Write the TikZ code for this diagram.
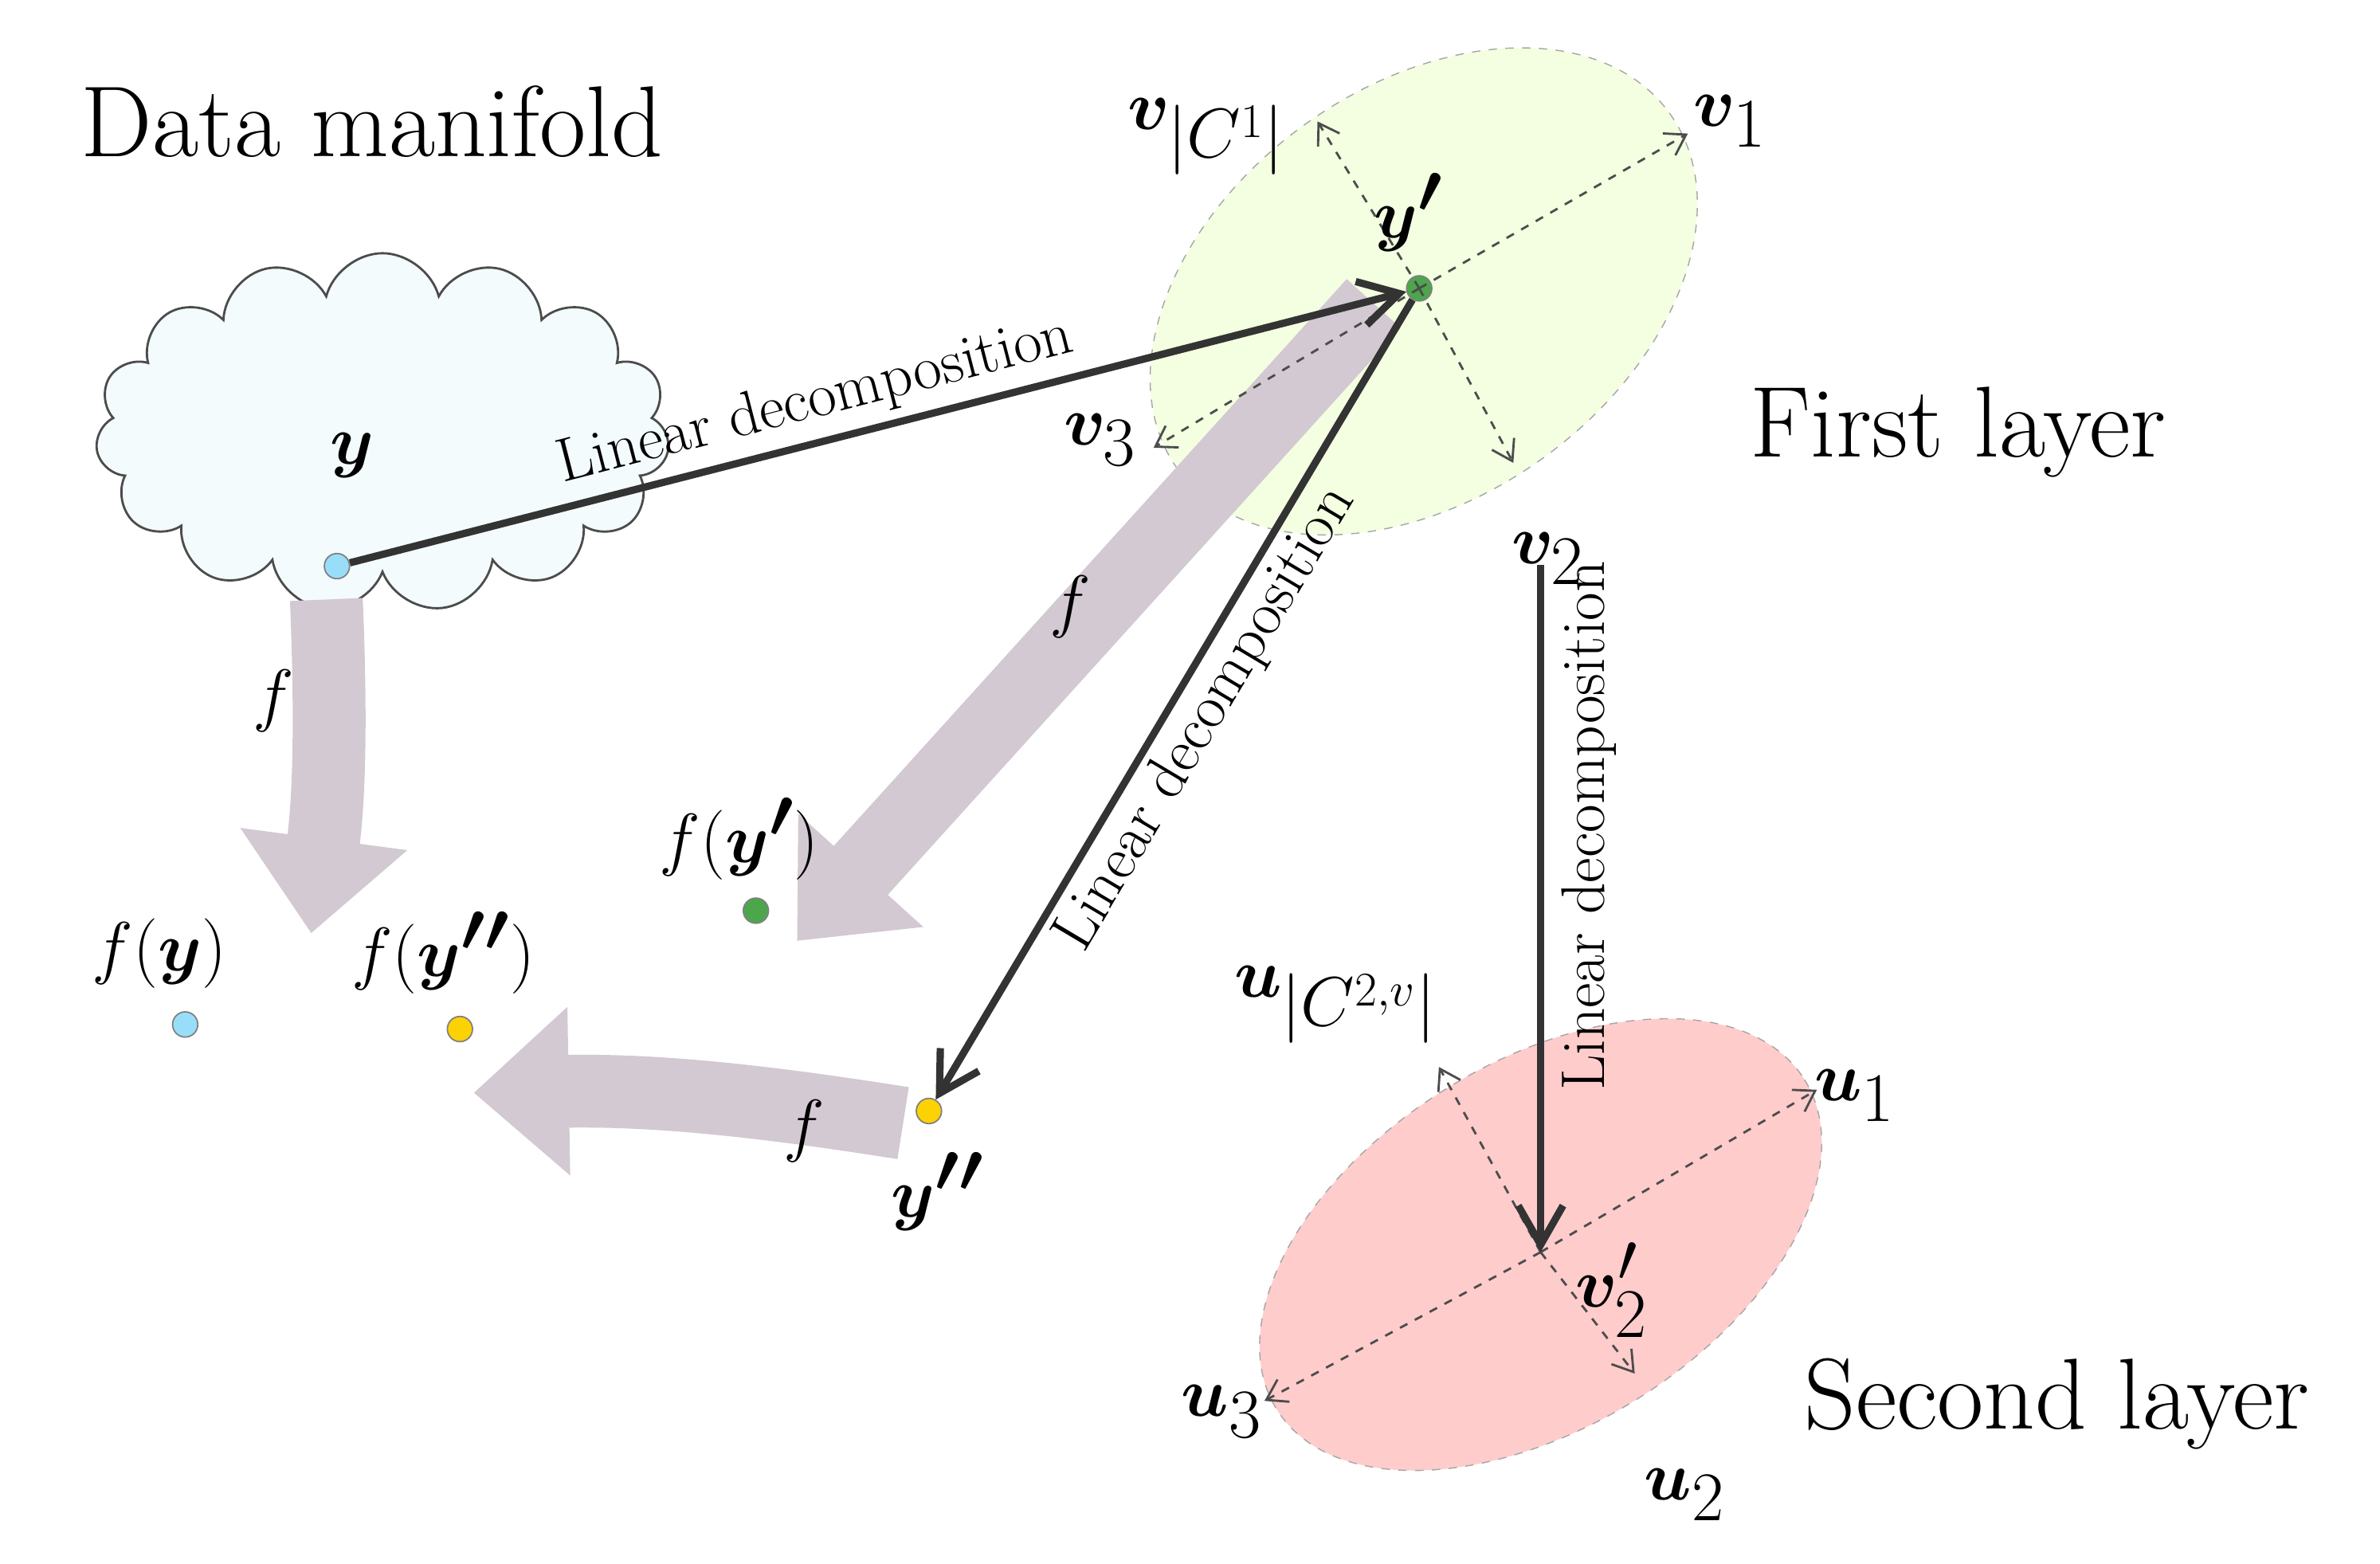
\documentclass[tikz,border=0pt]{standalone}
\usepackage{amsmath,bm}
\usetikzlibrary{shapes.symbols,arrows.meta}
\begin{document}
\begin{tikzpicture}[x=0.01905cm,y=-0.01905cm,
  big/.style={font=\fontsize{36}{40}\selectfont},
  lab/.style={font=\fontsize{34}{38}\selectfont},
  dec/.style={font=\fontsize{22}{24}\selectfont,text=black},
  dsh/.style={dashed,gray!60!black,line width=0.8pt,-{Straight Barb[length=7pt,width=9pt]}},
  thk/.style={line width=2.6pt,black!80,-{Straight Barb[length=14pt,width=16pt,line width=2.6pt]}},
  fa/.style={line width=26pt,draw=violet!20!gray!35,-{Triangle[width=58pt,length=34pt]}},
  dotb/.style={circle,inner sep=0pt,minimum size=9pt,draw=gray,line width=0.5pt}]
\useasboundingbox (0,0) rectangle (1568,1030);
% cloud
\node[cloud,cloud puffs=15,aspect=1.7,draw=black!70,line width=0.8pt,fill=gray!15!cyan!5,minimum width=7.2cm,minimum height=4.5cm] (cloud) at (252,285) {};
\node[big] (dm) at (245,80) {Data manifold};
% ellipses
\fill[green!40!yellow!12,draw=gray!70,dashed,thin,rotate around={36:(938,192)}] (938,192) ellipse [x radius=200,y radius=135];
\fill[red!20,draw=gray!70,dashed,thin,rotate around={32:(1015,820)}] (1015,820) ellipse [x radius=205,y radius=120];
% f arrows
\draw[fa] (215,395) to[bend left=5] (205,615);
\draw[fa] (905,200) -- (525,620);
\draw[fa] (595,740) to[bend right=5] (312,720);
% points
\node[dotb,fill=cyan!40] (y) at (222,373) {};
\node[dotb,fill=green!50!black!70] (yp) at (935,190) {};
\node[dotb,fill=yellow!70!orange] (ypp) at (612,732) {};
\coordinate (v2t) at (1015,372);
\coordinate (v2p) at (1015,825);
\node[dotb,fill=cyan!40] (fy) at (122,675) {};
\node[dotb,fill=yellow!70!orange] (fypp) at (303,678) {};
\node[dotb,fill=green!50!black!70] (fyp) at (498,600) {};
% dashed axes
\coordinate (a1) at (1112,88); \coordinate (a2) at (868,80);
\coordinate (a3) at (760,295); \coordinate (a4) at (997,305);
\foreach \p in {a1,a2,a3,a4} \draw[dsh] (yp.center) -- (\p);
\coordinate (b1) at (1197,718); \coordinate (b2) at (948,703);
\coordinate (b3) at (833,923); \coordinate (b4) at (1077,905);
\foreach \p in {b1,b2,b3,b4} \draw[dsh] (v2p) -- (\p);
% thick arrows
\draw[thk] (y) -- node[dec,sloped,above=0pt,pos=0.45] {Linear decomposition} (yp);
\draw[thk] (yp) -- (ypp);
\path (ypp) -- node[dec,sloped,below=0pt,pos=0.5] {Linear decomposition} (yp);
\draw[thk] (v2t) -- (v2p);
\path (v2p) -- node[dec,sloped,below=4pt,pos=0.62] {Linear decomposition} (v2t);
% labels
\node[lab] (ly) at (232,300) {$\bm{y}$};
\node[lab] (lyp) at (928,140) {$\bm{y'}$};
\node[lab] (lypp) at (618,785) {$\bm{y''}$};
\node[lab] (lv1) at (1140,80) {$\bm{v}_1$};
\node[lab] (lvc) at (795,90) {$\bm{v}_{\left|C^1\right|}$};
\node[lab] (lv3) at (725,290) {$\bm{v}_3$};
\node[lab] (lv2) at (1020,368) {$\bm{v}_2$};
\node[big] (fl) at (1290,285) {First layer};
\node[lab] (lu1) at (1222,722) {$\bm{u}_1$};
\node[lab] (luc) at (880,662) {$\bm{u}_{\left|C^{2,v}\right|}$};
\node[lab] (lu3) at (805,930) {$\bm{u}_3$};
\node[lab] (lu2) at (1110,985) {$\bm{u}_2$};
\node[lab] (lv2p) at (1062,850) {$\bm{v}'_2$};
\node[big] (sl) at (1355,925) {Second layer};
\node[lab] (f1) at (180,462) {$f$};
\node[lab] (f2) at (705,400) {$f$};
\node[lab] (f3) at (530,745) {$f$};
\node[lab] (lfy) at (105,628) {$f(\bm{y})$};
\node[lab] (lfypp) at (292,628) {$f(\bm{y''})$};
\node[lab] (lfyp) at (487,553) {$f(\bm{y'})$};
\end{tikzpicture}
\end{document}
